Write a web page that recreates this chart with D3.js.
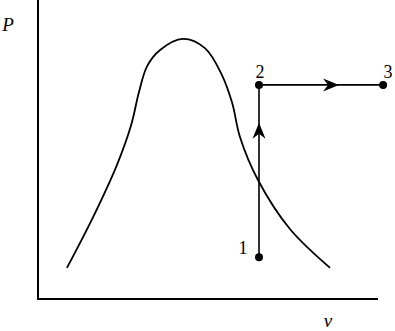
<!DOCTYPE html>
<html>
<head>
<meta charset="utf-8">
<script src="https://cdn.jsdelivr.net/npm/d3@7"></script>
<style>
  body { margin: 0; background: #fff; }
</style>
</head>
<body>
<div id="chart"></div>
<script>
// saturation dome (v, P in arbitrary units 0..10)
var domeV = [0.85, 1.62, 2.32, 2.74, 2.97, 3.21, 3.59, 4.26, 4.91, 5.41, 5.71, 5.94, 6.47, 7.41, 8.59];
var domeP = [1.04, 2.74, 4.48, 5.82, 6.92, 7.79, 8.33, 8.70, 8.39, 7.49, 6.56, 5.42, 3.98, 2.34, 1.04];

// process states
var stateLabels = ["1", "2", "3"];
var stateV = [6.5, 6.5, 10.15];
var stateP = [1.40, 7.16, 7.16];

// where the arrow tip sits along each segment (1->2, 2->3)
var arrowAt = [0.78, 0.645];

var width = 395, height = 331;
var serif = "'Liberation Serif', 'Times New Roman', Times, 'DejaVu Serif', serif";
var x = d3.scaleLinear().domain([0, 10]).range([38, 378]);
var y = d3.scaleLinear().domain([0, 10]).range([299, 0]);

var svg = d3.select("#chart").append("svg")
    .attr("width", width)
    .attr("height", height);

// axes, no ticks
svg.append("path")
    .attr("d", "M" + x(0) + "," + y(10) + "V" + y(0) + "H" + x(10))
    .attr("fill", "none")
    .attr("stroke", "#000")
    .attr("stroke-width", 2);

svg.append("text")
    .attr("x", 8).attr("y", 31)
    .attr("text-anchor", "middle")
    .attr("font-family", serif)
    .attr("font-style", "italic")
    .attr("font-size", 19)
    .text("P");
svg.append("text")
    .attr("x", 328).attr("y", 327)
    .attr("text-anchor", "middle")
    .attr("font-family", serif)
    .attr("font-style", "italic")
    .attr("font-size", 19)
    .text("v");

var dome = domeV.map(function (v, i) { return [v, domeP[i]]; });
var line = d3.line()
    .x(function (d) { return x(d[0]); })
    .y(function (d) { return y(d[1]); })
    .curve(d3.curveCatmullRom.alpha(0.5));

svg.append("path")
    .datum(dome)
    .attr("d", line)
    .attr("fill", "none")
    .attr("stroke", "#000")
    .attr("stroke-width", 1.8);

// process path 1 -> 2 -> 3
var states = stateV.map(function (v, i) { return { v: v, p: stateP[i], label: stateLabels[i] }; });
svg.append("path")
    .datum(states)
    .attr("d", d3.line().x(function (d) { return x(d.v); }).y(function (d) { return y(d.p); }))
    .attr("fill", "none")
    .attr("stroke", "#000")
    .attr("stroke-width", 1.6);

// arrowheads
for (var i = 0; i < states.length - 1; i++) {
    var a = states[i], b = states[i + 1];
    var t = arrowAt[i];
    var tx = x(a.v) + (x(b.v) - x(a.v)) * t;
    var ty = y(a.p) + (y(b.p) - y(a.p)) * t;
    var ang = Math.atan2(y(b.p) - y(a.p), x(b.v) - x(a.v)) * 180 / Math.PI;
    svg.append("path")
        .attr("d", "M0,0L-16,-6.5L-11,0L-16,6.5Z")
        .attr("transform", "translate(" + tx + "," + ty + ") rotate(" + ang + ")")
        .attr("fill", "#000");
}

svg.selectAll(".dot")
    .data(states)
    .enter().append("circle")
    .attr("class", "dot")
    .attr("cx", function (d) { return x(d.v); })
    .attr("cy", function (d) { return y(d.p); })
    .attr("r", 4)
    .attr("fill", "#000");

var labelOffset = [[-16, -3], [1, -7], [5, -7]];
svg.selectAll(".lbl")
    .data(states)
    .enter().append("text")
    .attr("class", "lbl")
    .attr("x", function (d, i) { return x(d.v) + labelOffset[i][0]; })
    .attr("y", function (d, i) { return y(d.p) + labelOffset[i][1]; })
    .attr("text-anchor", "middle")
    .attr("font-family", serif)
    .attr("font-size", 18)
    .text(function (d) { return d.label; });
</script>
</body>
</html>
